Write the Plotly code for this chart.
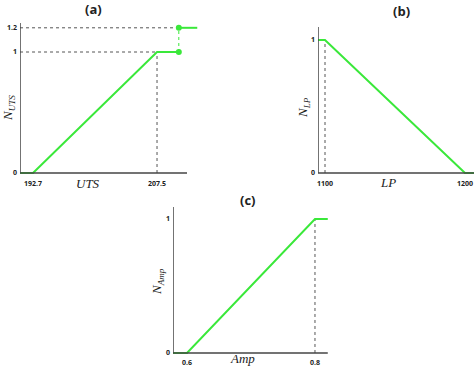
import plotly.graph_objects as go

W, H = 474, 366

# ---- data ----
uts_x = [191.15, 192.7, 207.5, 210.1]
uts_y = [0, 0, 1, 1]
uts_up_x = [210.1, 212.3]
uts_up_y = [1.2, 1.2]
uts_pts_x = [210.1, 210.1]
uts_pts_y = [1, 1.2]
uts_ticks = [192.7, 207.5]
uts_yticks = [0, 1, 1.2]

lp_x = [1095, 1100, 1200, 1206.4]
lp_y = [1, 1, 0, 0]
lp_ticks = [1100, 1200]
lp_yticks = [0, 1]

amp_x = [0.578, 0.6, 0.8, 0.82]
amp_y = [0, 0, 1, 1]
amp_ticks = [0.6, 0.8]
amp_yticks = [0, 1]

GREEN = "#3ae83a"
GRAY = "#555555"
AX = "#444444"

def xdom(l, r):
    return [l / W, r / W]

def ydom(top, bottom):
    return [1 - bottom / H, 1 - top / H]

fig = go.Figure()

# panel a
fig.add_trace(go.Scatter(x=[uts_x[0], uts_ticks[1]], y=[1, 1], mode="lines",
                         line=dict(color=GRAY, width=1, dash="dot"), xaxis="x", yaxis="y"))
fig.add_trace(go.Scatter(x=[uts_x[0], uts_pts_x[1]], y=[1.2, 1.2], mode="lines",
                         line=dict(color=GRAY, width=1, dash="dot"), xaxis="x", yaxis="y"))
fig.add_trace(go.Scatter(x=[uts_ticks[1], uts_ticks[1]], y=[0, 1], mode="lines",
                         line=dict(color=GRAY, width=1, dash="dot"), xaxis="x", yaxis="y"))
fig.add_trace(go.Scatter(x=uts_pts_x, y=uts_pts_y, mode="lines",
                         line=dict(color=GREEN, width=1, dash="dot"), xaxis="x", yaxis="y"))
fig.add_trace(go.Scatter(x=uts_x, y=uts_y, mode="lines",
                         line=dict(color=GREEN, width=2), xaxis="x", yaxis="y"))
fig.add_trace(go.Scatter(x=uts_up_x, y=uts_up_y, mode="lines",
                         line=dict(color=GREEN, width=2), xaxis="x", yaxis="y"))
fig.add_trace(go.Scatter(x=uts_pts_x, y=uts_pts_y, mode="markers",
                         marker=dict(color=GREEN, size=6), xaxis="x", yaxis="y"))

# panel b
fig.add_trace(go.Scatter(x=[lp_ticks[0], lp_ticks[0]], y=[0, 1], mode="lines",
                         line=dict(color=GRAY, width=1, dash="dot"), xaxis="x2", yaxis="y2"))
fig.add_trace(go.Scatter(x=lp_x, y=lp_y, mode="lines",
                         line=dict(color=GREEN, width=2), xaxis="x2", yaxis="y2"))

# panel c
fig.add_trace(go.Scatter(x=[amp_ticks[1], amp_ticks[1]], y=[0, 1], mode="lines",
                         line=dict(color=GRAY, width=1, dash="dot"), xaxis="x3", yaxis="y3"))
fig.add_trace(go.Scatter(x=amp_x, y=amp_y, mode="lines",
                         line=dict(color=GREEN, width=2), xaxis="x3", yaxis="y3"))

tickfont = dict(family="Open Sans", size=7, color="#222222")

def xa(dom, rng, ticks, anchor):
    return dict(domain=dom, range=rng, tickvals=ticks,
                ticktext=["<b>%g</b>" % t for t in ticks],
                showgrid=False, zeroline=False, showline=False, ticks="",
                tickfont=tickfont, anchor=anchor, fixedrange=True)

def ya(dom, rng, ticks, anchor):
    return dict(domain=dom, range=rng, tickvals=ticks,
                ticktext=["<b>%g</b>" % t for t in ticks],
                showgrid=False, zeroline=False, showline=False, ticks="",
                tickfont=tickfont, anchor=anchor, fixedrange=True, ticklabelstandoff=2)

fig.update_layout(
    width=W, height=H, margin=dict(l=0, r=0, t=0, b=0),
    paper_bgcolor="white", plot_bgcolor="white", showlegend=False,
    xaxis=xa(xdom(20, 198), [191.148, 212.39], uts_ticks, "y"),
    yaxis=ya(ydom(22, 178), [-0.0413, 1.248], uts_yticks, "x"),
    xaxis2=xa(xdom(318, 474), [1095, 1206.43], lp_ticks, "y2"),
    yaxis2=ya(ydom(25, 178), [-0.0376, 1.1128], lp_yticks, "x2"),
    xaxis3=xa(xdom(173, 335), [0.5781, 0.8313], amp_ticks, "y3"),
    yaxis3=ya(ydom(205, 357), [-0.0299, 1.1045], amp_yticks, "x3"),
)

# axis lines
shapes = []
def axes(xr, yr, x0, x1, y1):
    shapes.append(dict(type="line", xref=xr, yref=yr, x0=x0, x1=x0, y0=0, y1=y1,
                       line=dict(color=AX, width=1.5)))
    shapes.append(dict(type="line", xref=xr, yref=yr, x0=x0, x1=x1, y0=0, y1=0,
                       line=dict(color=AX, width=1.5)))
axes("x", "y", 191.148, 211.08, 1.24)
axes("x2", "y2", 1095, 1206.43, 1.098)
axes("x3", "y3", 0.5781, 0.82, 1.09)
fig.update_layout(shapes=shapes)

serif = "Liberation Serif"
ann = []
def label(text, x, y, angle=0, size=13, family=serif):
    ann.append(dict(text=text, x=x / W, y=1 - y / H, xref="paper", yref="paper",
                    showarrow=False, textangle=angle,
                    font=dict(family=family, size=size, color="#222222"),
                    xanchor="center", yanchor="middle"))

label("<b>(a)</b>", 93, 9, size=13, family="Open Sans")
label("<b>(b)</b>", 401, 11, size=13, family="Open Sans")
label("<b>(c)</b>", 248, 200, size=13, family="Open Sans")
label("<i>N<sub>UTS</sub></i>", 8, 108, angle=-90)
label("<i>N<sub>LP</sub></i>", 303, 108, angle=-90)
label("<i>N<sub>Amp</sub></i>", 157, 282, angle=-90)
label("<i>UTS</i>", 88, 183)
label("<i>LP</i>", 388, 182)
label("<i>Amp</i>", 243, 358)
fig.update_layout(annotations=ann)

fig.write_html("out.html", config={"displayModeBar": False},
               post_script="document.body.style.margin='0px';document.body.style.overflow='hidden';")
